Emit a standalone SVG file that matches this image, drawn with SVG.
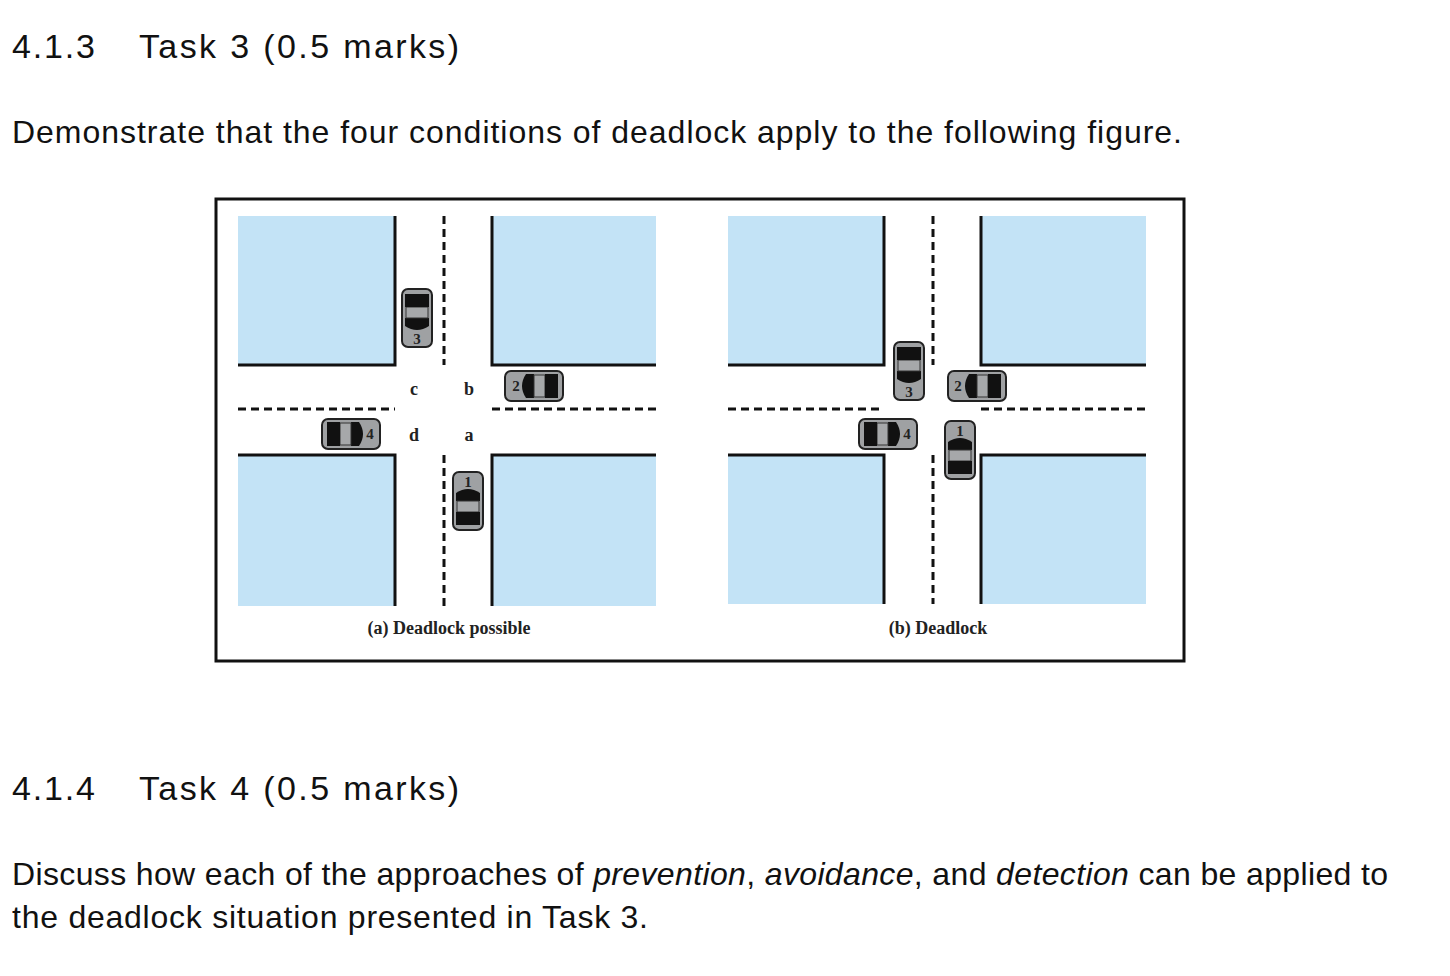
<svg xmlns="http://www.w3.org/2000/svg" width="1450" height="976" viewBox="0 0 1450 976">
<style>
.h{font-family:"Liberation Sans",Arial,sans-serif;font-size:34px;fill:#111}
.t{font-family:"Liberation Sans",Arial,sans-serif;font-size:32px;fill:#111}
.blk{fill:#c3e3f6}
.edge{fill:none;stroke:#111;stroke-width:3}
.dash{stroke:#111;stroke-width:3;stroke-dasharray:8,5}
.lbl{font-family:"Liberation Serif",serif;font-weight:bold;font-size:18px;fill:#222;text-anchor:middle}
.cap{font-family:"Liberation Serif",serif;font-weight:bold;font-size:18px;fill:#222;text-anchor:middle}
.num{font-family:"Liberation Serif",serif;font-weight:bold;font-size:15px;fill:#222;text-anchor:middle}
</style>
<defs>
<g id="car">
<rect x="-15" y="-29" width="30" height="58" rx="6" fill="#9fa1a3" stroke="#222" stroke-width="2"/>
<path d="M-12,-8 Q0,-16 12,-8 L12,0 L-12,0 Z" fill="#111"/>
<rect x="-11" y="0" width="22" height="11" fill="#a6a8aa" stroke="#333" stroke-width="1"/>
<rect x="-12" y="11" width="24" height="13" fill="#111"/>
</g>
</defs>
<text class="h" x="12" y="58" textLength="83">4.1.3</text>
<text class="h" x="139" y="58" textLength="320">Task 3 (0.5 marks)</text>
<text class="t" x="12" y="143" textLength="1170">Demonstrate that the four conditions of deadlock apply to the following figure.</text>
<g id="figure">
<rect x="216" y="199" width="968" height="462" fill="#fff" stroke="#111" stroke-width="3"/>
<g id="panel-a">
<rect class="blk" x="238" y="216" width="157" height="149"/>
<rect class="blk" x="492" y="216" width="164" height="149"/>
<rect class="blk" x="238" y="455" width="157" height="151"/>
<rect class="blk" x="492" y="455" width="164" height="151"/>
<path class="edge" d="M395,216V365H238M492,216V365H656M238,455H395V606M656,455H492V606"/>
<path class="dash" d="M444,216V365M444,455V606M238,409H395M492,409H656"/>
<text class="lbl" x="414" y="395">c</text><text class="lbl" x="469" y="395">b</text>
<text class="lbl" x="414" y="441">d</text><text class="lbl" x="469" y="441">a</text>
<g id="a-car1"><use href="#car" transform="translate(468,501)"/><text class="num" x="468" y="487">1</text></g>
<g id="a-car2"><use href="#car" transform="translate(534,386) rotate(-90)"/><text class="num" x="516" y="391">2</text></g>
<g id="a-car3"><use href="#car" transform="translate(417,318) rotate(180)"/><text class="num" x="417" y="344">3</text></g>
<g id="a-car4"><use href="#car" transform="translate(351,434) rotate(90)"/><text class="num" x="370" y="439">4</text></g>
<text class="cap" x="449" y="634">(a) Deadlock possible</text>
</g>
<g id="panel-b">
<rect class="blk" x="728" y="216" width="156" height="149"/>
<rect class="blk" x="981" y="216" width="165" height="149"/>
<rect class="blk" x="728" y="455" width="156" height="149"/>
<rect class="blk" x="981" y="455" width="165" height="149"/>
<path class="edge" d="M884,216V365H728M981,216V365H1146M728,455H884V604M1146,455H981V604"/>
<path class="dash" d="M933,216V365M933,455V604M728,409H884M981,409H1146"/>
<g id="b-car1"><use href="#car" transform="translate(960,450)"/><text class="num" x="960" y="436">1</text></g>
<g id="b-car2"><use href="#car" transform="translate(977,386) rotate(-90)"/><text class="num" x="958" y="391">2</text></g>
<g id="b-car3"><use href="#car" transform="translate(909,371) rotate(180)"/><text class="num" x="909" y="397">3</text></g>
<g id="b-car4"><use href="#car" transform="translate(888,434) rotate(90)"/><text class="num" x="907" y="439">4</text></g>
<text class="cap" x="938" y="634">(b) Deadlock</text>
</g>
</g>
<text class="h" x="12" y="800" textLength="83">4.1.4</text>
<text class="h" x="139" y="800" textLength="320">Task 4 (0.5 marks)</text>
<text class="t" x="12" y="885" textLength="1376">Discuss how each of the approaches of <tspan font-style="italic">prevention</tspan>, <tspan font-style="italic">avoidance</tspan>, and <tspan font-style="italic">detection</tspan> can be applied to</text>
<text class="t" x="12" y="928" textLength="636">the deadlock situation presented in Task 3.</text>
</svg>
